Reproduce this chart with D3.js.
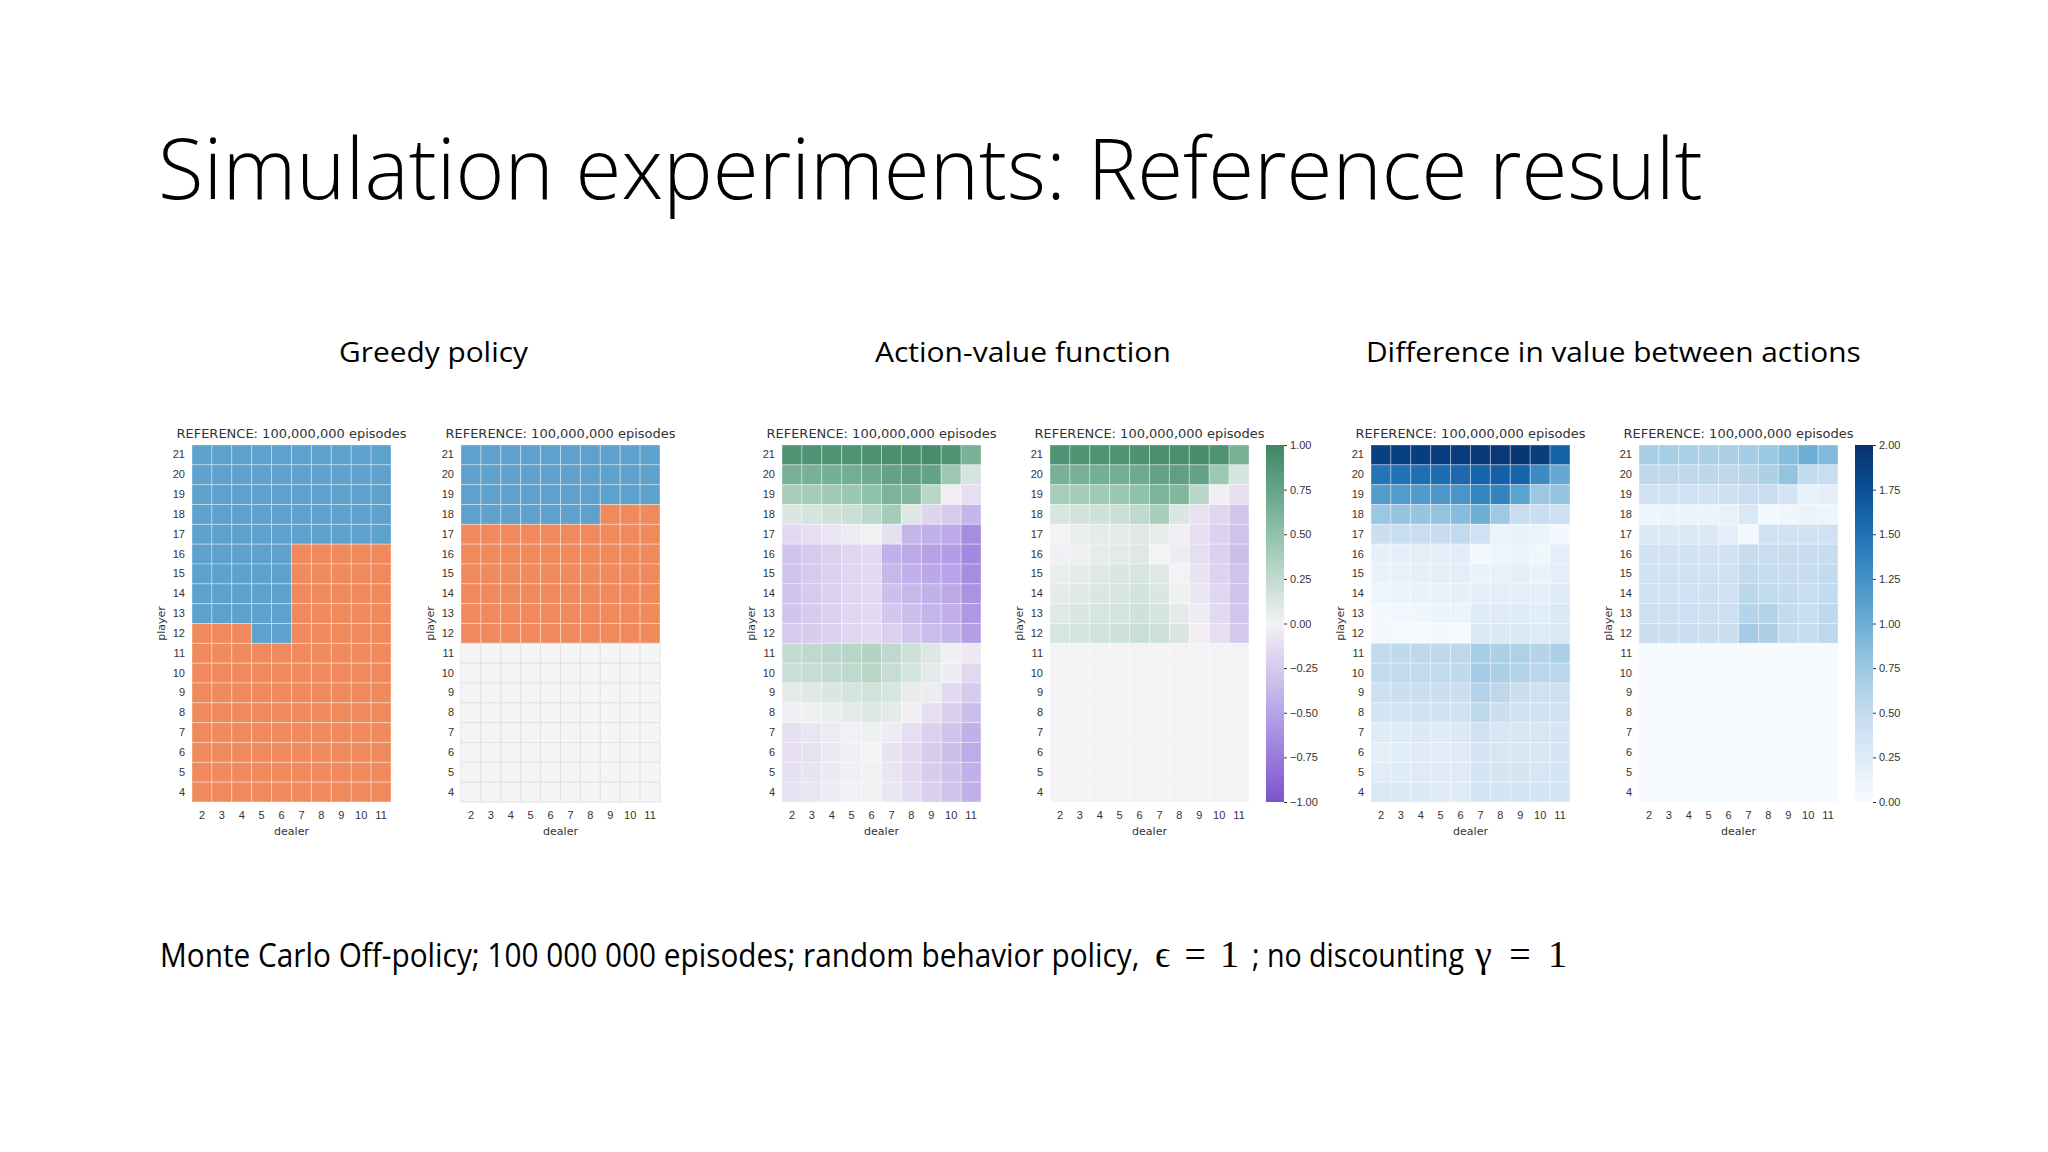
<!DOCTYPE html>
<html>
<head>
<meta charset="utf-8">
<script src="https://cdn.jsdelivr.net/npm/d3@7"></script>
<style>
  body { margin: 0; background: #fff; }
  .tick text { fill: #333; }
</style>
</head>
<body>
<div id="slide"></div>
<script>
// axes of every heatmap
var dealers = [2, 3, 4, 5, 6, 7, 8, 9, 10, 11];
var players = [21, 20, 19, 18, 17, 16, 15, 14, 13, 12, 11, 10, 9, 8, 7, 6, 5, 4];

// greedy policy: 1 = stick (blue), 0 = hit (orange), null = never visited
var policyNoAce = [
  [1,1,1,1,1,1,1,1,1,1],
  [1,1,1,1,1,1,1,1,1,1],
  [1,1,1,1,1,1,1,1,1,1],
  [1,1,1,1,1,1,1,1,1,1],
  [1,1,1,1,1,1,1,1,1,1],
  [1,1,1,1,1,0,0,0,0,0],
  [1,1,1,1,1,0,0,0,0,0],
  [1,1,1,1,1,0,0,0,0,0],
  [1,1,1,1,1,0,0,0,0,0],
  [0,0,0,1,1,0,0,0,0,0],
  [0,0,0,0,0,0,0,0,0,0],
  [0,0,0,0,0,0,0,0,0,0],
  [0,0,0,0,0,0,0,0,0,0],
  [0,0,0,0,0,0,0,0,0,0],
  [0,0,0,0,0,0,0,0,0,0],
  [0,0,0,0,0,0,0,0,0,0],
  [0,0,0,0,0,0,0,0,0,0],
  [0,0,0,0,0,0,0,0,0,0]
];
var N = null;
var policyAce = [
  [1,1,1,1,1,1,1,1,1,1],
  [1,1,1,1,1,1,1,1,1,1],
  [1,1,1,1,1,1,1,1,1,1],
  [1,1,1,1,1,1,1,0,0,0],
  [0,0,0,0,0,0,0,0,0,0],
  [0,0,0,0,0,0,0,0,0,0],
  [0,0,0,0,0,0,0,0,0,0],
  [0,0,0,0,0,0,0,0,0,0],
  [0,0,0,0,0,0,0,0,0,0],
  [0,0,0,0,0,0,0,0,0,0],
  [N,N,N,N,N,N,N,N,N,N],
  [N,N,N,N,N,N,N,N,N,N],
  [N,N,N,N,N,N,N,N,N,N],
  [N,N,N,N,N,N,N,N,N,N],
  [N,N,N,N,N,N,N,N,N,N],
  [N,N,N,N,N,N,N,N,N,N],
  [N,N,N,N,N,N,N,N,N,N],
  [N,N,N,N,N,N,N,N,N,N]
];

// action-value of the greedy action
var valueNoAce = [
  [0.88, 0.88, 0.89, 0.89, 0.90, 0.93, 0.93, 0.94, 0.89, 0.64],
  [0.64, 0.65, 0.66, 0.67, 0.70, 0.77, 0.79, 0.76, 0.44, 0.15],
  [0.39, 0.40, 0.42, 0.45, 0.50, 0.62, 0.59, 0.29, -0.02, -0.12],
  [0.12, 0.15, 0.18, 0.20, 0.28, 0.40, 0.11, -0.18, -0.24, -0.38],
  [-0.15, -0.12, -0.08, -0.04, 0.01, -0.11, -0.38, -0.42, -0.46, -0.64],
  [-0.29, -0.25, -0.21, -0.17, -0.15, -0.42, -0.46, -0.51, -0.54, -0.67],
  [-0.29, -0.25, -0.21, -0.17, -0.15, -0.37, -0.42, -0.47, -0.50, -0.64],
  [-0.29, -0.25, -0.21, -0.17, -0.15, -0.32, -0.37, -0.42, -0.46, -0.60],
  [-0.29, -0.25, -0.21, -0.17, -0.15, -0.27, -0.32, -0.38, -0.42, -0.56],
  [-0.25, -0.23, -0.21, -0.17, -0.15, -0.21, -0.27, -0.34, -0.38, -0.52],
  [0.24, 0.26, 0.28, 0.30, 0.32, 0.26, 0.19, 0.11, 0.02, -0.06],
  [0.20, 0.22, 0.24, 0.26, 0.29, 0.22, 0.15, 0.07, -0.03, -0.16],
  [0.07, 0.10, 0.12, 0.15, 0.17, 0.14, 0.06, -0.04, -0.15, -0.25],
  [-0.02, 0.02, 0.05, 0.08, 0.11, 0.08, -0.02, -0.12, -0.22, -0.33],
  [-0.11, -0.08, -0.05, -0.01, 0.02, -0.04, -0.12, -0.21, -0.29, -0.41],
  [-0.12, -0.10, -0.06, -0.02, 0.00, -0.09, -0.16, -0.24, -0.32, -0.44],
  [-0.11, -0.09, -0.06, -0.02, 0.01, -0.08, -0.15, -0.23, -0.31, -0.42],
  [-0.10, -0.08, -0.05, -0.01, 0.01, -0.07, -0.14, -0.22, -0.30, -0.41]
];
var valueAce = [
  [0.88, 0.88, 0.89, 0.89, 0.90, 0.93, 0.93, 0.94, 0.89, 0.64],
  [0.64, 0.65, 0.66, 0.67, 0.70, 0.77, 0.79, 0.76, 0.44, 0.15],
  [0.39, 0.40, 0.42, 0.45, 0.50, 0.62, 0.59, 0.29, -0.02, -0.12],
  [0.14, 0.17, 0.18, 0.20, 0.26, 0.38, 0.13, -0.10, -0.17, -0.28],
  [0.00, 0.05, 0.07, 0.08, 0.10, 0.06, -0.02, -0.12, -0.20, -0.30],
  [-0.02, 0.03, 0.06, 0.08, 0.10, 0.00, -0.04, -0.12, -0.21, -0.32],
  [0.04, 0.07, 0.10, 0.13, 0.14, 0.10, 0.00, -0.09, -0.19, -0.30],
  [0.07, 0.10, 0.12, 0.14, 0.16, 0.12, 0.02, -0.07, -0.17, -0.29],
  [0.09, 0.12, 0.14, 0.15, 0.18, 0.15, 0.07, -0.04, -0.15, -0.28],
  [0.14, 0.15, 0.17, 0.18, 0.21, 0.19, 0.12, -0.02, -0.12, -0.26],
  [0, 0, 0, 0, 0, 0, 0, 0, 0, 0],
  [0, 0, 0, 0, 0, 0, 0, 0, 0, 0],
  [0, 0, 0, 0, 0, 0, 0, 0, 0, 0],
  [0, 0, 0, 0, 0, 0, 0, 0, 0, 0],
  [0, 0, 0, 0, 0, 0, 0, 0, 0, 0],
  [0, 0, 0, 0, 0, 0, 0, 0, 0, 0],
  [0, 0, 0, 0, 0, 0, 0, 0, 0, 0],
  [0, 0, 0, 0, 0, 0, 0, 0, 0, 0]
];

// |Q(stick) - Q(hit)|
var diffNoAce = [
  [1.88, 1.89, 1.90, 1.90, 1.91, 1.93, 1.94, 1.95, 1.90, 1.62],
  [1.48, 1.50, 1.52, 1.53, 1.56, 1.60, 1.64, 1.60, 1.30, 1.05],
  [1.15, 1.16, 1.17, 1.19, 1.22, 1.35, 1.36, 1.10, 0.75, 0.80],
  [0.76, 0.78, 0.78, 0.80, 0.86, 1.00, 0.74, 0.46, 0.45, 0.42],
  [0.44, 0.45, 0.46, 0.47, 0.52, 0.40, 0.12, 0.14, 0.12, 0.05],
  [0.17, 0.18, 0.20, 0.20, 0.22, 0.05, 0.10, 0.12, 0.08, 0.20],
  [0.14, 0.15, 0.17, 0.18, 0.20, 0.14, 0.16, 0.18, 0.14, 0.20],
  [0.10, 0.12, 0.14, 0.15, 0.17, 0.20, 0.21, 0.20, 0.18, 0.24],
  [0.04, 0.06, 0.08, 0.11, 0.12, 0.24, 0.25, 0.24, 0.22, 0.28],
  [0.05, 0.03, 0.02, 0.05, 0.02, 0.28, 0.28, 0.30, 0.26, 0.30],
  [0.52, 0.53, 0.54, 0.54, 0.55, 0.68, 0.66, 0.64, 0.60, 0.66],
  [0.50, 0.51, 0.51, 0.52, 0.53, 0.70, 0.66, 0.62, 0.56, 0.57],
  [0.42, 0.43, 0.43, 0.44, 0.44, 0.60, 0.55, 0.44, 0.40, 0.42],
  [0.36, 0.37, 0.38, 0.38, 0.39, 0.53, 0.44, 0.38, 0.38, 0.38],
  [0.24, 0.26, 0.27, 0.24, 0.28, 0.40, 0.33, 0.33, 0.33, 0.34],
  [0.21, 0.22, 0.24, 0.23, 0.25, 0.34, 0.33, 0.33, 0.32, 0.34],
  [0.23, 0.24, 0.25, 0.25, 0.25, 0.35, 0.35, 0.34, 0.33, 0.35],
  [0.30, 0.28, 0.27, 0.25, 0.25, 0.36, 0.36, 0.35, 0.35, 0.36]
];
var diffAce = [
  [0.68, 0.68, 0.67, 0.67, 0.66, 0.70, 0.76, 0.86, 1.00, 0.90],
  [0.55, 0.55, 0.55, 0.56, 0.55, 0.58, 0.66, 0.80, 0.50, 0.46],
  [0.40, 0.40, 0.40, 0.40, 0.42, 0.46, 0.46, 0.36, 0.16, 0.20],
  [0.10, 0.12, 0.12, 0.12, 0.15, 0.30, 0.05, 0.08, 0.12, 0.10],
  [0.28, 0.28, 0.28, 0.28, 0.18, 0.05, 0.38, 0.38, 0.38, 0.40],
  [0.38, 0.38, 0.38, 0.38, 0.38, 0.48, 0.46, 0.47, 0.47, 0.48],
  [0.38, 0.39, 0.39, 0.39, 0.39, 0.52, 0.48, 0.47, 0.47, 0.50],
  [0.40, 0.40, 0.40, 0.41, 0.40, 0.56, 0.52, 0.50, 0.46, 0.50],
  [0.42, 0.42, 0.42, 0.42, 0.42, 0.60, 0.62, 0.50, 0.45, 0.54],
  [0.44, 0.44, 0.44, 0.44, 0.44, 0.70, 0.65, 0.50, 0.48, 0.55],
  [0.02, 0.01, 0.01, 0.01, 0.01, 0.01, 0.01, 0.01, 0.01, 0.01],
  [0.01, 0.01, 0.01, 0.01, 0.01, 0.01, 0.01, 0.01, 0.01, 0.01],
  [0.01, 0.01, 0.01, 0.01, 0.01, 0.01, 0.01, 0.01, 0.01, 0.01],
  [0.01, 0.01, 0.01, 0.01, 0.01, 0.01, 0.01, 0.01, 0.01, 0.01],
  [0.01, 0.01, 0.01, 0.01, 0.01, 0.01, 0.01, 0.01, 0.01, 0.01],
  [0.01, 0.01, 0.01, 0.01, 0.01, 0.01, 0.01, 0.01, 0.01, 0.01],
  [0.01, 0.01, 0.01, 0.01, 0.01, 0.01, 0.01, 0.01, 0.01, 0.01],
  [0.01, 0.01, 0.01, 0.01, 0.01, 0.01, 0.01, 0.01, 0.01, 0.01]
];

var valueTicks = [-1, -0.75, -0.5, -0.25, 0, 0.25, 0.5, 0.75, 1];
var diffTicks = [0, 0.25, 0.5, 0.75, 1, 1.25, 1.5, 1.75, 2];
var panelTitle = "REFERENCE: 100,000,000 episodes";

// colour scales
var policyColor = d3.scaleOrdinal().domain([0, 1]).range(["#f08a5d", "#5ea1cd"]);
var valueColor = d3.scaleLinear()
	.domain([-1, -0.5, 0, 0.5, 1])
	.range(["#7c53cf", "#b7a3e7", "#f3f2f4", "#90c2aa", "#3d8664"])
	.clamp(true);
var diffColor = d3.scaleSequential(d3.interpolateBlues).domain([0, 2]);

var W = 2048, H = 1152;
var top0 = 445, mapW = 199, mapH = 357;

var svg = d3.select("#slide")
	.append("svg")
	.attr("width", W)
	.attr("height", H)
	.style("font-family", "'DejaVu Sans', sans-serif");

svg.append("rect").attr("width", W).attr("height", H).attr("fill", "#fff");

var defs = svg.append("defs");

// squeeze a text horizontally so it spans the given width (Calibri is narrower than Open Sans)
function fitWidth(sel) {
	sel.each(function(d) {
		var w = this.getComputedTextLength();
		d3.select(this)
			.attr("x", 0)
			.attr("y", 0)
			.attr("transform", "translate(" + d.x + "," + d.y + ") scale(" + (d.w / w) + ",1)");
	});
}

// slide title and section headings
var headings = [
	{ text: "Simulation experiments: Reference result", x: 158, y: 199, w: 1545, size: 85, weight: 300 },
	{ text: "Greedy policy", x: 339, y: 362, w: 189, size: 28, weight: 400 },
	{ text: "Action-value function", x: 875, y: 362, w: 296, size: 28, weight: 400 },
	{ text: "Difference in value between actions", x: 1366, y: 362, w: 495, size: 28, weight: 400 }
];
svg.selectAll("text.heading")
	.data(headings)
	.enter()
	.append("text")
	.attr("class", "heading")
	.attr("font-family", "'Open Sans', sans-serif")
	.attr("font-size", d => d.size)
	.attr("font-weight", d => d.weight)
	.attr("fill", "#000")
	.text(d => d.text)
	.call(fitWidth);

// one heatmap
function heatmap(x0, grid, colorFn) {
	var g = svg.append("g");

	var x = d3.scaleBand().domain(dealers).range([x0, x0 + mapW]);
	var y = d3.scaleBand().domain(players).range([top0, top0 + mapH]);

	var cells = [];
	grid.forEach(function(row, i) {
		row.forEach(function(v, j) {
			cells.push({ player: players[i], dealer: dealers[j], v: v });
		});
	});

	g.selectAll("rect")
		.data(cells)
		.enter()
		.append("rect")
		.attr("x", d => x(d.dealer))
		.attr("y", d => y(d.player))
		.attr("width", x.bandwidth())
		.attr("height", y.bandwidth())
		.attr("fill", d => d.v === null ? "#f5f5f7" : colorFn(d.v))
		.attr("stroke", d => d.v === null ? "#e3e3e6" : "rgba(255,255,255,0.35)")
		.attr("stroke-width", 1);

	g.append("g")
		.attr("transform", "translate(" + x0 + ",0)")
		.call(d3.axisLeft(y).tickSize(0).tickPadding(7))
		.call(a => a.select(".domain").remove())
		.selectAll("text")
		.attr("font-size", 11);

	g.append("g")
		.attr("transform", "translate(0," + (top0 + mapH) + ")")
		.call(d3.axisBottom(x).tickSize(0).tickPadding(9))
		.call(a => a.select(".domain").remove())
		.selectAll("text")
		.attr("font-size", 11);

	g.append("text")
		.attr("x", x0 + mapW / 2)
		.attr("y", top0 - 7)
		.attr("text-anchor", "middle")
		.attr("font-size", 13)
		.attr("fill", "#333")
		.text(panelTitle);

	g.append("text")
		.attr("x", x0 + mapW / 2)
		.attr("y", 835)
		.attr("text-anchor", "middle")
		.attr("font-size", 11)
		.attr("fill", "#333")
		.text("dealer");

	g.append("text")
		.attr("transform", "translate(" + (x0 - 27) + "," + (top0 + mapH / 2) + ") rotate(-90)")
		.attr("text-anchor", "middle")
		.attr("font-size", 11)
		.attr("fill", "#333")
		.text("player");
}

// vertical colour bar
function colorbar(x0, id, scale, ticks) {
	var lo = ticks[0], hi = ticks[ticks.length - 1];
	var grad = defs.append("linearGradient")
		.attr("id", id)
		.attr("x1", 0).attr("y1", 1).attr("x2", 0).attr("y2", 0);
	d3.range(0, 1.0001, 0.05).forEach(function(t) {
		grad.append("stop")
			.attr("offset", t)
			.attr("stop-color", scale(lo + t * (hi - lo)));
	});

	svg.append("rect")
		.attr("x", x0).attr("y", top0)
		.attr("width", 18).attr("height", mapH)
		.attr("fill", "url(#" + id + ")");

	var s = d3.scaleLinear().domain([lo, hi]).range([top0 + mapH, top0]);
	svg.append("g")
		.attr("transform", "translate(" + (x0 + 18) + ",0)")
		.call(d3.axisRight(s).tickValues(ticks).tickSize(3).tickPadding(3).tickFormat(d3.format(".2f")))
		.call(a => a.select(".domain").remove())
		.call(a => a.selectAll("line").attr("stroke", "#333"))
		.selectAll("text")
		.attr("font-size", 11);
}

heatmap(192, policyNoAce, policyColor);
heatmap(461, policyAce, policyColor);
heatmap(782, valueNoAce, valueColor);
heatmap(1050, valueAce, valueColor);
colorbar(1266, "gradValue", valueColor, valueTicks);
heatmap(1371, diffNoAce, diffColor);
heatmap(1639, diffAce, diffColor);
colorbar(1855, "gradDiff", diffColor, diffTicks);

// caption with the experiment settings: plain words and two small formulas
var captionWords = [
	{ text: "Monte Carlo Off-policy; 100 000 000 episodes; random behavior policy,", x: 160, y: 967, w: 980 },
	{ text: "; no discounting", x: 1252, y: 967, w: 212 }
];
svg.selectAll("text.caption")
	.data(captionWords)
	.enter()
	.append("text")
	.attr("class", "caption")
	.attr("font-family", "'Open Sans', sans-serif")
	.attr("font-size", 33)
	.attr("fill", "#000")
	.text(d => d.text)
	.call(fitWidth);

var formulas = [
	{ text: "\u03F5 = 1", x: 1155, y: 967, w: 84 },
	{ text: "\u03B3 = 1", x: 1475, y: 967, w: 92 }
];
svg.selectAll("text.formula")
	.data(formulas)
	.enter()
	.append("text")
	.attr("class", "formula")
	.attr("x", d => d.x)
	.attr("y", d => d.y)
	.attr("font-family", "'Liberation Serif', 'DejaVu Serif', serif")
	.attr("font-size", 38)
	.attr("textLength", d => d.w)
	.attr("lengthAdjust", "spacing")
	.attr("fill", "#000")
	.text(d => d.text);
</script>
</body>
</html>
